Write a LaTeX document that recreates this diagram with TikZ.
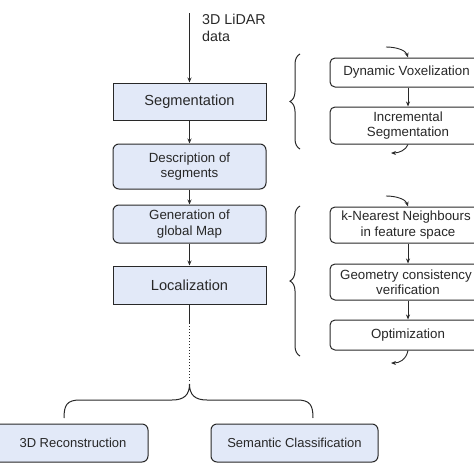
\documentclass[tikz,border=0pt]{standalone}
\usepackage{fontspec}
\setmainfont{Liberation Sans}
\usetikzlibrary{arrows.meta,decorations.pathreplacing}
\definecolor{boxfill}{RGB}{226,233,248}
\definecolor{linec}{RGB}{40,40,40}
\tikzset{
  mainbox/.style={draw=linec,line width=1pt,fill=boxfill,minimum width=153pt,align=center,inner sep=0pt,text=linec,font=\fontsize{13.3}{15.5}\selectfont},
  sidebox/.style={draw=linec,line width=1pt,fill=white,rounded corners=5pt,minimum width=156pt,align=center,inner sep=0pt,text=linec,font=\fontsize{13.3}{15.5}\selectfont},
  arr/.style={draw=linec,line width=0.9pt,-{Stealth[length=5pt,width=4pt]}},
  bracestyle/.style={draw=linec,line width=1pt},
}
\begin{document}
\begin{tikzpicture}[x=1pt,y=-1pt]
\useasboundingbox (0,0) rectangle (474,474);
% main column
\node[mainbox,minimum height=37pt,font=\fontsize{14.6}{17}\selectfont] (seg) at (189.5,101.5) {Segmentation};
\node[mainbox,minimum height=45pt,rounded corners=6pt] (desc) at (189.5,166.5) {Description of\\segments};
\node[mainbox,minimum height=38pt,rounded corners=6pt] (gen) at (189.5,224) {Generation of\\global Map};
\node[mainbox,minimum height=38pt,font=\fontsize{14.6}{17}\selectfont] (loc) at (189.5,285) {Localization};
\coordinate (start) at (189.5,13);
\node[anchor=north west,align=left,inner sep=0pt,text=linec,font=\fontsize{14.3}{17}\selectfont] (lidar) at (202,14) {3D LiDAR\\data};
\draw[arr] (start) -- (seg.north);
\draw[arr] (seg.south) -- (desc.north);
\draw[arr] (desc.south) -- (gen.north);
\draw[arr] (gen.south) -- (loc.north);
\coordinate (solidend) at (189.5,323);
\coordinate (dotend) at (189.5,381);
\draw[linec,line width=1pt] (loc.south) -- (solidend);
\draw[linec,line width=1pt,dotted] (solidend) -- (dotend);
% bottom brace
\draw[bracestyle] (64,418) .. controls (64,405) and (67,400) .. (80,400) -- (172,400) .. controls (184,400) and (189.5,395) .. (189.5,384)
  .. controls (189.5,395) and (195,400) .. (207,400) -- (297,400) .. controls (310,400) and (313,405) .. (313,418);
% bottom boxes
\node[mainbox,minimum width=158pt,minimum height=38pt,rounded corners=6pt,font=\fontsize{13}{15}\selectfont] (rec) at (69,443) {\hspace*{8pt}3D Reconstruction};
\node[mainbox,minimum width=167pt,minimum height=38pt,rounded corners=6pt,font=\fontsize{13}{15}\selectfont] (sem) at (294.5,443) {Semantic Classification};
% right group 1
\node[sidebox,minimum height=29pt] (dv) at (408,72.5) {\hspace*{-3pt}Dynamic Voxelization};
\node[sidebox,minimum height=37pt] (inc) at (408,125.5) {Incremental\\Segmentation};
\draw[arr] (dv.south) -- (inc.north);
\coordinate (in1) at (386,47);
\coordinate (out1) at (391,153);
\draw[arr] (in1) .. controls (398,47) and (406,51) .. (dv.north);
\draw[arr] (inc.south) .. controls (406,150) and (399,153) .. (out1);
\draw[bracestyle,decorate,decoration={brace,amplitude=10pt}] (300,149) -- (300,54);
% right group 2
\node[sidebox,minimum height=36pt] (knn) at (408,225) {\hspace*{-4pt}k-Nearest Neighbours\\in feature space};
\node[sidebox,minimum height=36pt] (geo) at (408,282) {\hspace*{-4pt}Geometry consistency\\verification};
\node[sidebox,minimum height=30pt] (opt) at (408,335) {Optimization};
\draw[arr] (knn.south) -- (geo.north);
\draw[arr] (geo.south) -- (opt.north);
\coordinate (in2) at (386,196);
\coordinate (out2) at (391,363);
\draw[arr] (in2) .. controls (398,196) and (406,200) .. (knn.north);
\draw[arr] (opt.south) .. controls (406,360) and (399,363) .. (out2);
\draw[bracestyle,decorate,decoration={brace,amplitude=10pt}] (300,356) -- (300,206);
\end{tikzpicture}
\end{document}
